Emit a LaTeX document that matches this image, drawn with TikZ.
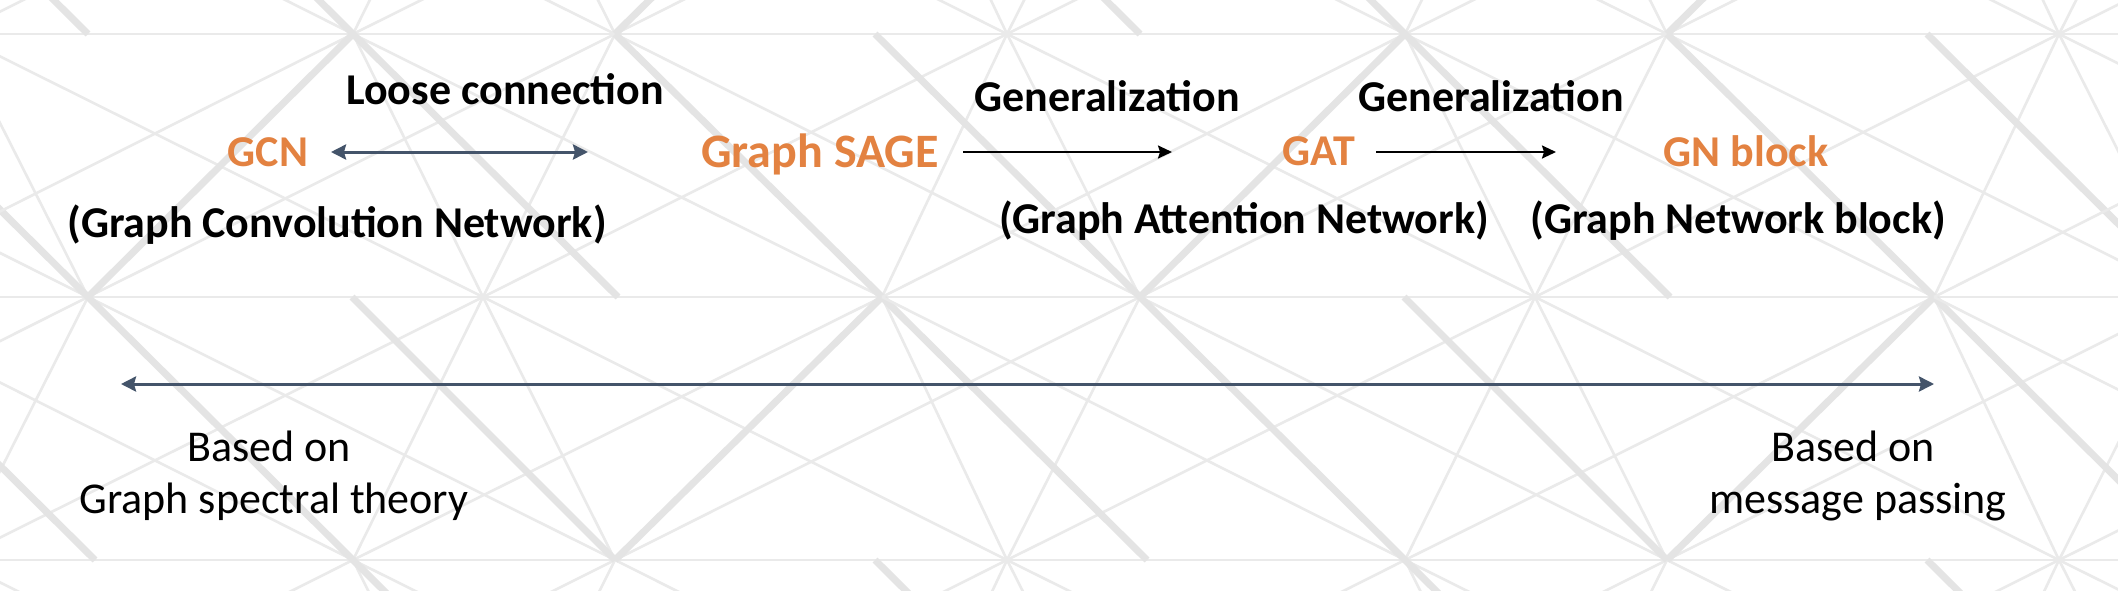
\documentclass[tikz,border=0pt]{standalone}
\usepackage{fontspec}
\setmainfont{Carlito}
\usetikzlibrary{arrows.meta}
\definecolor{orng}{HTML}{E38241}
\definecolor{slate}{HTML}{44546A}
\definecolor{meshc}{HTML}{EAEAEA}
\definecolor{meshk}{HTML}{E4E4E4}
\begin{document}
\begin{tikzpicture}[x=1pt,y=-1pt,
  lbl/.style={inner sep=0pt, anchor=base, font=\fontsize{44}{52}\selectfont\bfseries},
  org/.style={lbl, text=orng},
  body/.style={inner sep=0pt, anchor=base, font=\fontsize{44}{52}\selectfont},
  dbl/.style={draw=slate, line width=3pt, {Stealth[length=15pt,width=15pt,inset=2pt]}-{Stealth[length=15pt,width=15pt,inset=2pt]}},
  gen/.style={draw=black, line width=2pt, -{Stealth[length=14pt,width=13pt,inset=2pt]}},
  thinline/.style={draw=meshc, line width=2.6pt},
  thickline/.style={draw=meshk, line width=7pt}]
\useasboundingbox (0,0) rectangle (2118,590);
\fill[white] (0,0) rectangle (2118,590);
% background mesh
\begin{scope}
\clip (0,0) rectangle (2118,590);
\foreach \y in {34,297,560} \draw[thinline] (0,\y) -- (2118,\y);
\foreach \k in {-1052,0,1052,2104} {
  \foreach \t/\m in {353/-170,353/483,353/882,615/88,615/483,615/1140,1007/882,1007/1140,1007/483,1007/1535} {
    \draw[thinline] (\t+\k,34) -- (\m+\k,297);
    \draw[thinline] (\t+\k,34) -- (\m+\k,-229);
    \draw[thinline] (\t+\k,560) -- (\m+\k,297);
    \draw[thinline] (\t+\k,560) -- (\m+\k,823);
  }
  \foreach \a/\b/\c/\d in {88/-229/353/34, 353/34/88/297, 88/297/353/560, -177/-229/88/34,
     353/34/618/297, 352/297/615/560, 615/34/882/-229, 615/34/882/297, 615/560/882/297,
     875/34/1140/297, 882/297/1147/560, 875/560/1140/823, 353/560/618/823} {
    \draw[thickline] (\a+\k,\b) -- (\c+\k,\d);
  }
}
\end{scope}
% labels
\node[lbl] (loose) at (505,104) {Loose connection};
\node[org] (gcn) at (268,166) {GCN};
\node[org, font=\fontsize{48}{56}\selectfont\bfseries] (sage) at (820,167) {Graph SAGE};
\node[lbl] (gen1) at (1107,111) {Generalization};
\node[org] (gat) at (1319,165) {GAT};
\node[lbl] (gen2) at (1491,111) {Generalization};
\node[org] (gn) at (1746,166) {GN block};
\node[lbl] (gcnf) at (337,237) {(Graph Convolution Network)};
\node[lbl] (gatf) at (1244,233) {(Graph Attention Network)};
\node[lbl] (gnf) at (1738,233) {(Graph Network block)};
\node[body] (b1) at (269,461) {Based on};
\node[body] (s1) at (274,513) {Graph spectral theory};
\node[body] (b2) at (1853,461) {Based on};
\node[body] (s2) at (1858,513) {message passing};
% arrow end points
\coordinate (a1s) at (331,152);
\coordinate (a1e) at (588,152);
\coordinate (a2s) at (963,152);
\coordinate (a2e) at (1172,152);
\coordinate (a3s) at (1376,152);
\coordinate (a3e) at (1556,152);
\coordinate (a4s) at (121,384);
\coordinate (a4e) at (1934,384);
\draw[dbl] (a1s) -- (a1e);
\draw[gen] (a2s) -- (a2e);
\draw[gen] (a3s) -- (a3e);
\draw[dbl] (a4s) -- (a4e);
\end{tikzpicture}
\end{document}
